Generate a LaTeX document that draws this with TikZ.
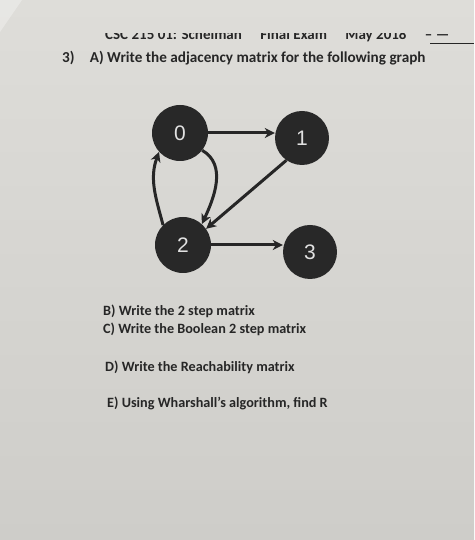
\documentclass[tikz,border=0pt]{standalone}
\usepackage{fontspec}
\setmainfont{Carlito}
\newfontfamily\digitfont{Liberation Sans}
\usetikzlibrary{arrows.meta}
\definecolor{papertop}{RGB}{222,221,217}
\definecolor{paperbot}{RGB}{206,205,201}
\definecolor{ink}{RGB}{38,38,38}
\definecolor{nodefill}{RGB}{40,40,40}
\definecolor{nodetext}{RGB}{225,225,225}
\begin{document}
\begin{tikzpicture}[x=1pt,y=1pt,
  vert/.style={circle,fill=nodefill,minimum size=56pt,inner sep=0pt,text=nodetext,font=\digitfont\fontsize{21}{21}\selectfont},
  edge/.style={draw=ink,line width=3pt,-{Stealth[length=10pt,width=10pt,inset=3pt]}},
  qtext/.style={anchor=base west,text=ink,font=\bfseries\fontsize{15.2}{16}\selectfont,inner sep=0pt},
  subq/.style={anchor=base west,text=ink,font=\bfseries\fontsize{14.2}{15}\selectfont,inner sep=0pt}]
\useasboundingbox (0,0) rectangle (474,540);
\shade[top color=papertop,bottom color=paperbot] (0,0) rectangle (474,540);
\fill[white,opacity=0.3] (0,540) -- (22,540) -- (0,508) -- cycle;
% cut header
\begin{scope}
\clip (0,0) rectangle (474,506);
\node[anchor=base west,text=ink,font=\bfseries\fontsize{15}{16}\selectfont,inner sep=0pt] (hdr) at (105,500) {CSC 215 01: Scheiman \quad Final Exam \quad May 2018 \quad -- ---};
\end{scope}
\coordinate (hl) at (430,497);
\coordinate (hr) at (474,497);
\draw[ink,line width=0.8pt] (hl) -- (hr);
\node[qtext] (title) at (62,477) {3)\hspace{1.0em}A) Write the adjacency matrix for the following graph};
% graph
\node[vert] (n0) at (180,407) {0};
\node[vert,minimum size=54pt] (n1) at (302,402) {1};
\node[vert] (n2) at (183,295) {2};
\node[vert,minimum size=54pt] (n3) at (310,288) {3};
\draw[edge] (n0.east) -- (n0.east -| n1.west);
\draw[edge] (n0.-38) to[out=-30,in=65] (n2.48);
\draw[edge] (n2.135) to[out=105,in=250] (n0.222);
\draw[edge] (n1.235) -- (n2.35);
\draw[edge] (n2.east) -- (n2.east -| n3.west);
% sub questions
\node[subq] (qb) at (103,224) {B) Write the 2 step matrix};
\node[subq] (qc) at (103,206) {C) Write the Boolean 2 step matrix};
\node[subq] (qd) at (105,168) {D) Write the Reachability matrix};
\node[subq] (qe) at (107,132) {E) Using Wharshall's algorithm, find R};
\end{tikzpicture}
\end{document}
